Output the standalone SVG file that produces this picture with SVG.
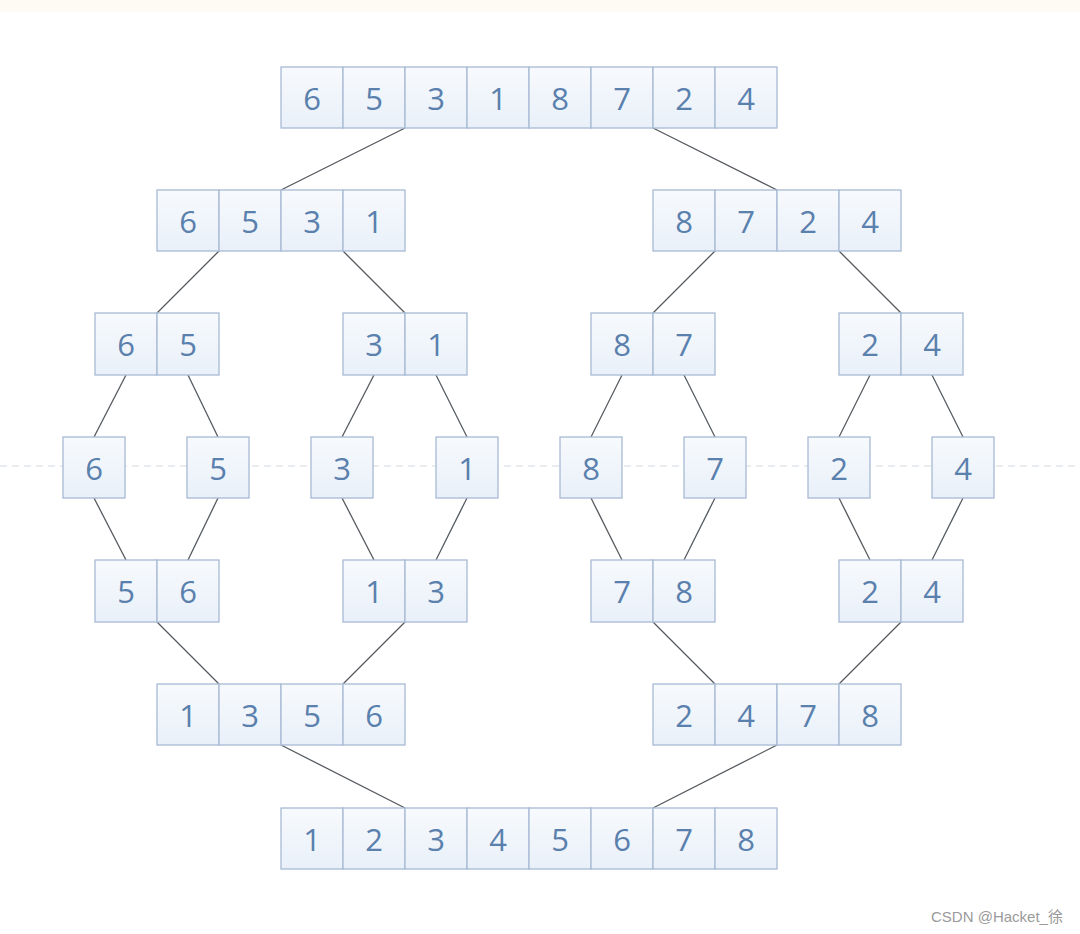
<svg xmlns="http://www.w3.org/2000/svg" width="1080" height="934" viewBox="0 0 1080 934">
<defs>
<linearGradient id="cellg" x1="0" y1="0" x2="0" y2="1">
<stop offset="0" stop-color="#f7fafd"/>
<stop offset="1" stop-color="#e9f0f9"/>
</linearGradient>
<style>
.c{fill:url(#cellg);stroke:#a8bbd5;stroke-width:1.3}
.t{font-family:"Open Sans","Noto Sans","DejaVu Sans",sans-serif;font-size:31px;fill:#5a80ad;text-anchor:middle;dominant-baseline:central}
.ln{stroke:#555a60;stroke-width:1.3;fill:none}
.dash{stroke:#d3dae3;stroke-width:1.2;stroke-dasharray:7 5}
.wm{font-family:"Liberation Sans","Noto Sans CJK SC",sans-serif;font-size:15px;fill:#9a9a9a}
</style>
</defs>
<rect width="1080" height="934" fill="#ffffff"/>
<rect x="0" y="0" width="1080" height="12" fill="#fdfbf4"/>
<line class="dash" x1="0" y1="466" x2="1080" y2="466"/>
<g id="connectors">
<line class="ln" x1="405" y1="128" x2="281" y2="190"/>
<line class="ln" x1="653" y1="128" x2="777" y2="190"/>
<line class="ln" x1="219" y1="251" x2="157" y2="313"/>
<line class="ln" x1="343" y1="251" x2="405" y2="313"/>
<line class="ln" x1="715" y1="251" x2="653" y2="313"/>
<line class="ln" x1="839" y1="251" x2="901" y2="313"/>
<line class="ln" x1="126" y1="375" x2="94" y2="437"/>
<line class="ln" x1="188" y1="375" x2="218" y2="437"/>
<line class="ln" x1="374" y1="375" x2="342" y2="437"/>
<line class="ln" x1="436" y1="375" x2="467" y2="437"/>
<line class="ln" x1="622" y1="375" x2="591" y2="437"/>
<line class="ln" x1="684" y1="375" x2="715" y2="437"/>
<line class="ln" x1="870" y1="375" x2="839" y2="437"/>
<line class="ln" x1="932" y1="375" x2="963" y2="437"/>
<line class="ln" x1="94" y1="498" x2="126" y2="560"/>
<line class="ln" x1="218" y1="498" x2="188" y2="560"/>
<line class="ln" x1="342" y1="498" x2="374" y2="560"/>
<line class="ln" x1="467" y1="498" x2="436" y2="560"/>
<line class="ln" x1="591" y1="498" x2="622" y2="560"/>
<line class="ln" x1="715" y1="498" x2="684" y2="560"/>
<line class="ln" x1="839" y1="498" x2="870" y2="560"/>
<line class="ln" x1="963" y1="498" x2="932" y2="560"/>
<line class="ln" x1="157" y1="622" x2="219" y2="684"/>
<line class="ln" x1="405" y1="622" x2="343" y2="684"/>
<line class="ln" x1="653" y1="622" x2="715" y2="684"/>
<line class="ln" x1="901" y1="622" x2="839" y2="684"/>
<line class="ln" x1="281" y1="745" x2="405" y2="808"/>
<line class="ln" x1="777" y1="745" x2="653" y2="808"/>
</g>
<g id="row1">
<rect class="c" x="281" y="67" width="62" height="61"/><text class="t" x="312" y="98">6</text>
<rect class="c" x="343" y="67" width="62" height="61"/><text class="t" x="374" y="98">5</text>
<rect class="c" x="405" y="67" width="62" height="61"/><text class="t" x="436" y="98">3</text>
<rect class="c" x="467" y="67" width="62" height="61"/><text class="t" x="498" y="98">1</text>
<rect class="c" x="529" y="67" width="62" height="61"/><text class="t" x="560" y="98">8</text>
<rect class="c" x="591" y="67" width="62" height="61"/><text class="t" x="622" y="98">7</text>
<rect class="c" x="653" y="67" width="62" height="61"/><text class="t" x="684" y="98">2</text>
<rect class="c" x="715" y="67" width="62" height="61"/><text class="t" x="746" y="98">4</text>
</g>
<g id="row2-left">
<rect class="c" x="157" y="190" width="62" height="61"/><text class="t" x="188" y="221">6</text>
<rect class="c" x="219" y="190" width="62" height="61"/><text class="t" x="250" y="221">5</text>
<rect class="c" x="281" y="190" width="62" height="61"/><text class="t" x="312" y="221">3</text>
<rect class="c" x="343" y="190" width="62" height="61"/><text class="t" x="374" y="221">1</text>
</g>
<g id="row2-right">
<rect class="c" x="653" y="190" width="62" height="61"/><text class="t" x="684" y="221">8</text>
<rect class="c" x="715" y="190" width="62" height="61"/><text class="t" x="746" y="221">7</text>
<rect class="c" x="777" y="190" width="62" height="61"/><text class="t" x="808" y="221">2</text>
<rect class="c" x="839" y="190" width="62" height="61"/><text class="t" x="870" y="221">4</text>
</g>
<g id="row3-a">
<rect class="c" x="95" y="313" width="62" height="62"/><text class="t" x="126" y="344">6</text>
<rect class="c" x="157" y="313" width="62" height="62"/><text class="t" x="188" y="344">5</text>
</g>
<g id="row3-b">
<rect class="c" x="343" y="313" width="62" height="62"/><text class="t" x="374" y="344">3</text>
<rect class="c" x="405" y="313" width="62" height="62"/><text class="t" x="436" y="344">1</text>
</g>
<g id="row3-c">
<rect class="c" x="591" y="313" width="62" height="62"/><text class="t" x="622" y="344">8</text>
<rect class="c" x="653" y="313" width="62" height="62"/><text class="t" x="684" y="344">7</text>
</g>
<g id="row3-d">
<rect class="c" x="839" y="313" width="62" height="62"/><text class="t" x="870" y="344">2</text>
<rect class="c" x="901" y="313" width="62" height="62"/><text class="t" x="932" y="344">4</text>
</g>
<g id="row4-1"><rect class="c" x="63" y="437" width="62" height="61"/><text class="t" x="94" y="468">6</text></g>
<g id="row4-2"><rect class="c" x="187" y="437" width="62" height="61"/><text class="t" x="218" y="468">5</text></g>
<g id="row4-3"><rect class="c" x="311" y="437" width="62" height="61"/><text class="t" x="342" y="468">3</text></g>
<g id="row4-4"><rect class="c" x="436" y="437" width="62" height="61"/><text class="t" x="467" y="468">1</text></g>
<g id="row4-5"><rect class="c" x="560" y="437" width="62" height="61"/><text class="t" x="591" y="468">8</text></g>
<g id="row4-6"><rect class="c" x="684" y="437" width="62" height="61"/><text class="t" x="715" y="468">7</text></g>
<g id="row4-7"><rect class="c" x="808" y="437" width="62" height="61"/><text class="t" x="839" y="468">2</text></g>
<g id="row4-8"><rect class="c" x="932" y="437" width="62" height="61"/><text class="t" x="963" y="468">4</text></g>
<g id="row5-a">
<rect class="c" x="95" y="560" width="62" height="62"/><text class="t" x="126" y="591">5</text>
<rect class="c" x="157" y="560" width="62" height="62"/><text class="t" x="188" y="591">6</text>
</g>
<g id="row5-b">
<rect class="c" x="343" y="560" width="62" height="62"/><text class="t" x="374" y="591">1</text>
<rect class="c" x="405" y="560" width="62" height="62"/><text class="t" x="436" y="591">3</text>
</g>
<g id="row5-c">
<rect class="c" x="591" y="560" width="62" height="62"/><text class="t" x="622" y="591">7</text>
<rect class="c" x="653" y="560" width="62" height="62"/><text class="t" x="684" y="591">8</text>
</g>
<g id="row5-d">
<rect class="c" x="839" y="560" width="62" height="62"/><text class="t" x="870" y="591">2</text>
<rect class="c" x="901" y="560" width="62" height="62"/><text class="t" x="932" y="591">4</text>
</g>
<g id="row6-left">
<rect class="c" x="157" y="684" width="62" height="61"/><text class="t" x="188" y="715">1</text>
<rect class="c" x="219" y="684" width="62" height="61"/><text class="t" x="250" y="715">3</text>
<rect class="c" x="281" y="684" width="62" height="61"/><text class="t" x="312" y="715">5</text>
<rect class="c" x="343" y="684" width="62" height="61"/><text class="t" x="374" y="715">6</text>
</g>
<g id="row6-right">
<rect class="c" x="653" y="684" width="62" height="61"/><text class="t" x="684" y="715">2</text>
<rect class="c" x="715" y="684" width="62" height="61"/><text class="t" x="746" y="715">4</text>
<rect class="c" x="777" y="684" width="62" height="61"/><text class="t" x="808" y="715">7</text>
<rect class="c" x="839" y="684" width="62" height="61"/><text class="t" x="870" y="715">8</text>
</g>
<g id="row7">
<rect class="c" x="281" y="808" width="62" height="61"/><text class="t" x="312" y="839">1</text>
<rect class="c" x="343" y="808" width="62" height="61"/><text class="t" x="374" y="839">2</text>
<rect class="c" x="405" y="808" width="62" height="61"/><text class="t" x="436" y="839">3</text>
<rect class="c" x="467" y="808" width="62" height="61"/><text class="t" x="498" y="839">4</text>
<rect class="c" x="529" y="808" width="62" height="61"/><text class="t" x="560" y="839">5</text>
<rect class="c" x="591" y="808" width="62" height="61"/><text class="t" x="622" y="839">6</text>
<rect class="c" x="653" y="808" width="62" height="61"/><text class="t" x="684" y="839">7</text>
<rect class="c" x="715" y="808" width="62" height="61"/><text class="t" x="746" y="839">8</text>
</g>
<text class="wm" x="931" y="922">CSDN @Hacket_徐</text>
</svg>
